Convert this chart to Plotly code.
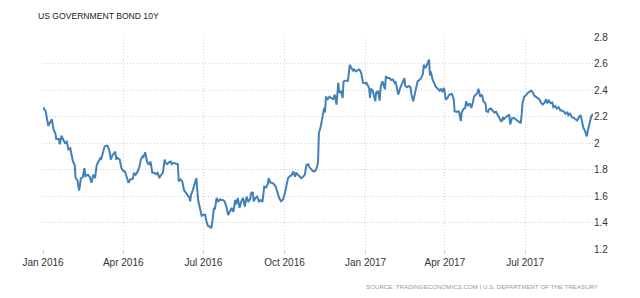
import pandas as pd
import plotly.graph_objects as go

title_text = "US GOVERNMENT BOND 10Y"
source_text = "SOURCE: TRADINGECONOMICS.COM | U.S. DEPARTMENT OF THE TREASURY"
start_date = "2016-01-01"

day_offsets = [
    0, 3, 6, 8, 10, 12, 14, 15, 18, 19, 21, 23, 25, 27, 29, 31, 33, 34, 36, 37, 39, 41, 43, 45, 47, 48,
    51, 53, 55, 57, 59, 61, 63, 65, 66, 68, 70, 73, 75, 77, 79, 82, 83, 84, 87, 89, 91, 93, 95, 97, 99,
    102, 103, 105, 107, 109, 111, 113, 114, 116, 118, 120, 122, 124, 126, 128, 130, 132, 133, 136, 138,
    139, 141, 143, 145, 146, 148, 151, 153, 154, 156, 158, 160, 162, 164, 166, 167, 168, 170, 172, 174,
    176, 178, 180, 182, 184, 185, 187, 189, 191, 192, 194, 195, 197, 199, 201, 202, 204, 206, 208, 210,
    212, 214, 216, 218, 219, 221, 223, 225, 227, 229, 231, 233, 235, 236, 238, 239, 241, 243, 245, 247,
    249, 251, 253, 255, 256, 258, 260, 262, 264, 266, 268, 270, 272, 274, 276, 278, 280, 282, 284, 286,
    287, 289, 291, 293, 295, 297, 299, 301, 302, 304, 306, 308, 310, 312, 313, 315, 317, 319, 320, 321,
    323, 325, 327, 329, 331, 333, 335, 336, 338, 340, 341, 343, 346, 348, 350, 352, 353, 355, 357, 359,
    361, 363, 366, 367, 370, 371, 372, 374, 375, 377, 378, 379, 380, 382, 383, 385, 386, 388, 389, 391,
    393, 395, 397, 399, 400, 401, 403, 405, 406, 408, 410, 411, 413, 415, 417, 418, 420, 421, 423, 425,
    427, 429, 431, 432, 434, 436, 438, 439, 440, 442, 444, 446, 448, 450, 452, 453, 455, 457, 459, 461,
    464, 466, 467, 469, 471, 472, 474, 475, 477, 479, 480, 482, 484, 486, 488, 489, 491, 493, 494, 496,
    498, 500, 502, 503, 505, 506, 508, 510, 512, 514, 516, 518, 520, 522, 523, 525, 527, 529, 530, 532,
    534, 536, 538, 540, 542, 543, 544, 546, 548, 550, 552, 554, 556, 557, 559, 561, 563, 565, 567, 569,
    571, 572, 574, 576, 578, 579, 581, 583, 585, 587, 589, 591, 593, 595, 596, 598, 600, 602, 604, 606,
    608, 610, 612, 613, 615, 617, 618, 620, 622, 624,
]

yields = [
    2.27, 2.24, 2.13, 2.15, 2.18, 2.10, 2.075, 2.03, 2.03, 1.99, 2.055, 2.025, 2.00, 2.01, 1.95, 1.96, 1.88, 1.86, 1.835, 1.735, 1.72, 1.64, 1.735, 1.74, 1.81, 1.75,
    1.76, 1.745, 1.70, 1.76, 1.735, 1.835, 1.86, 1.885, 1.88, 1.92, 1.975, 1.98, 1.95, 1.875, 1.91, 1.935, 1.875, 1.89, 1.875, 1.81, 1.79, 1.785, 1.75, 1.70, 1.725,
    1.73, 1.775, 1.76, 1.78, 1.81, 1.875, 1.90, 1.895, 1.93, 1.86, 1.835, 1.86, 1.775, 1.775, 1.765, 1.775, 1.735, 1.75, 1.775, 1.875,
    1.85, 1.84, 1.855, 1.86, 1.84, 1.85, 1.845, 1.84, 1.71, 1.725, 1.71, 1.645, 1.625, 1.61, 1.59, 1.56, 1.61, 1.645, 1.70, 1.735,
    1.57, 1.495, 1.45, 1.46, 1.457, 1.42, 1.375, 1.37, 1.357, 1.40, 1.51, 1.50, 1.585, 1.56, 1.575, 1.57, 1.57, 1.56, 1.52, 1.457,
    1.48, 1.51, 1.48, 1.57, 1.535, 1.585, 1.51, 1.56, 1.585, 1.52, 1.595, 1.56, 1.575, 1.62, 1.63, 1.56, 1.585, 1.595, 1.56, 1.57,
    1.555, 1.67, 1.665, 1.69, 1.735, 1.70, 1.70, 1.69, 1.67, 1.62, 1.585, 1.56, 1.57, 1.61, 1.685, 1.735, 1.75, 1.755, 1.785, 1.745,
    1.775, 1.76, 1.745, 1.735, 1.745, 1.76, 1.835, 1.84, 1.82, 1.80, 1.79, 1.785, 1.80, 1.85, 2.075, 2.12, 2.20, 2.265, 2.23, 2.35,
    2.33, 2.35, 2.34, 2.33, 2.365, 2.29, 2.455, 2.38, 2.39, 2.34, 2.465, 2.47, 2.47, 2.59, 2.565, 2.545, 2.555, 2.54, 2.55, 2.555,
    2.53, 2.455, 2.45, 2.455, 2.415, 2.34, 2.41, 2.395, 2.37, 2.315, 2.385, 2.38, 2.395, 2.32, 2.42, 2.465, 2.45, 2.405, 2.505, 2.49,
    2.49, 2.475, 2.48, 2.455, 2.465, 2.435, 2.365, 2.41, 2.43, 2.455, 2.49, 2.43, 2.42, 2.43, 2.42, 2.365, 2.315, 2.35, 2.395, 2.465,
    2.475, 2.49, 2.52, 2.59, 2.565, 2.605, 2.63, 2.51, 2.54, 2.48, 2.455, 2.42, 2.41, 2.395, 2.41, 2.385, 2.415, 2.327, 2.34, 2.365,
    2.37, 2.33, 2.24, 2.235, 2.24, 2.235, 2.165, 2.23, 2.255, 2.265, 2.315, 2.28, 2.30, 2.265, 2.315, 2.35, 2.365, 2.38, 2.41, 2.35,
    2.365, 2.31, 2.30, 2.24, 2.235, 2.255, 2.26, 2.24, 2.23, 2.235, 2.21, 2.18, 2.16, 2.195, 2.18, 2.195, 2.205, 2.215, 2.14, 2.185,
    2.19, 2.18, 2.165, 2.155, 2.15, 2.21, 2.30, 2.35, 2.36, 2.378, 2.39, 2.395, 2.38, 2.36, 2.35, 2.34, 2.33, 2.305, 2.29, 2.305,
    2.33, 2.30, 2.32, 2.30, 2.305, 2.27, 2.28, 2.26, 2.27, 2.245, 2.245, 2.235, 2.22, 2.235, 2.21, 2.22, 2.195, 2.19, 2.18, 2.17,
    2.195, 2.21, 2.15, 2.115, 2.09, 2.05, 2.09, 2.15, 2.20, 2.22,
]

y_ticks = [1.2, 1.4, 1.6, 1.8, 2.0, 2.2, 2.4, 2.6, 2.8]
y_tick_labels = ["1.2", "1.4", "1.6", "1.8", "2", "2.2", "2.4", "2.6", "2.8"]
x_range_days = [0, 624]

base = pd.Timestamp(start_date)
dates = base + pd.to_timedelta(day_offsets, unit="D")
x_range = [base + pd.Timedelta(days=d) for d in x_range_days]

fig = go.Figure()
fig.add_trace(go.Scatter(
    x=dates, y=yields, mode="lines",
    line=dict(color="#4281b8", width=2),
    hoverinfo="skip", showlegend=False,
))

grid_color = "#d2d2d2"
grid_dash = "1px,2px"
fig.update_layout(
    width=640, height=298,
    margin=dict(l=43, r=47, t=37, b=49, pad=0),
    paper_bgcolor="white", plot_bgcolor="white",
    font=dict(family="Liberation Sans, Arial, sans-serif", size=10, color="#333333"),
    title=dict(text=title_text, x=38 / 640, xanchor="left", y=1 - 16 / 298, yanchor="middle",
               xref="container", yref="container",
               font=dict(family="Liberation Sans, Arial, sans-serif",
                         size=8.6, color="#222222")),
    xaxis=dict(
        type="date", range=x_range, tick0=start_date, dtick="M3", tickformat="%b %Y",
        showgrid=True, gridcolor=grid_color, griddash=grid_dash, gridwidth=1,
        ticks="outside", ticklen=4, tickcolor=grid_color,
        showline=False, zeroline=False,
        tickfont=dict(size=10, color="#333333"),
    ),
    yaxis=dict(
        side="right", range=[1.2, 2.8], tickvals=y_ticks, ticktext=y_tick_labels,
        showgrid=True, gridcolor=grid_color, griddash=grid_dash, gridwidth=1,
        showline=False, zeroline=False, ticks="",
        tickfont=dict(size=10, color="#333333"),
    ),
    annotations=[dict(
        text=source_text, xref="paper", yref="paper",
        x=(600 - 43) / 550, y=(249 - 286) / 212, xanchor="right", yanchor="middle",
        showarrow=False, font=dict(size=6.2, color="#999999"),
    )],
)

fig.write_html("out.html")
